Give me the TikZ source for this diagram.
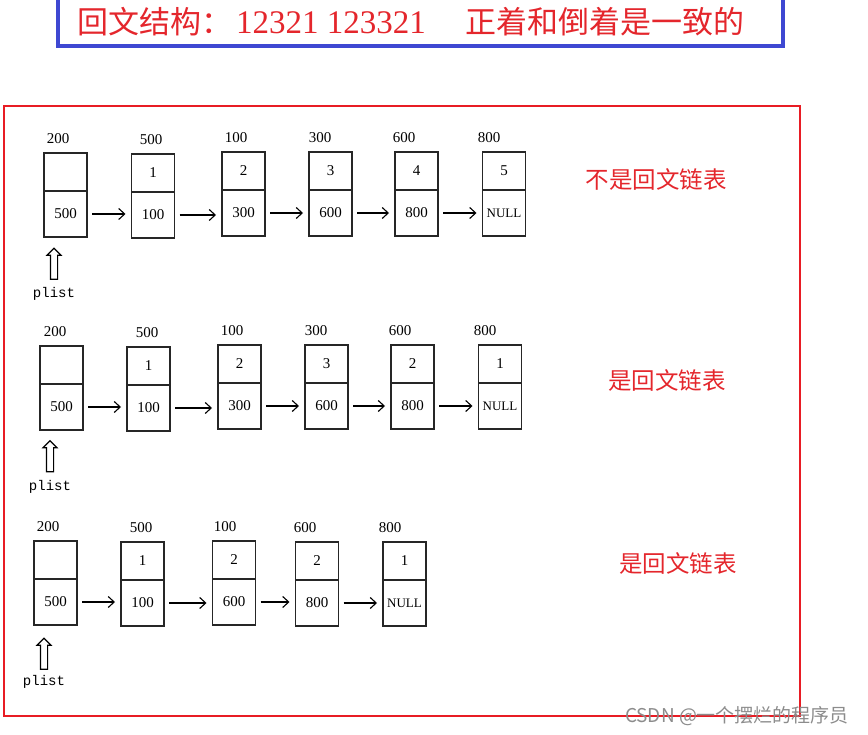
\documentclass[tikz,border=0pt]{standalone}
\usepackage{fontspec}
\setmainfont{Liberation Serif}
\newfontfamily\cjk{Noto Sans CJK SC}
\newfontfamily\monof{Liberation Mono}
\usetikzlibrary{arrows.meta,shapes.arrows}
\definecolor{tred}{RGB}{228,38,44}
\definecolor{bred}{RGB}{232,28,36}
\definecolor{tblue}{RGB}{62,72,210}
\tikzset{
  topcell/.style={draw=black!85,line width=1.2pt,minimum width=43pt,minimum height=38pt,anchor=north,inner sep=0pt,outer sep=0pt,font=\fontsize{15}{15}\selectfont},
  botcell/.style={draw=black!85,line width=1.2pt,minimum width=43pt,minimum height=46pt,anchor=north,inner sep=0pt,outer sep=0pt,font=\fontsize{15}{15}\selectfont},
  addr/.style={inner sep=0pt,font=\fontsize{15}{15}\selectfont},
  arr/.style={draw=black,line width=1.1pt,-{Straight Barb[length=6pt,width=11pt]}},
  plistarrow/.style={single arrow,draw=black,line width=1.1pt,rotate=90,minimum height=31pt,single arrow head extend=3.5pt,inner sep=0pt,outer sep=0pt},
  plisttext/.style={inner sep=0pt,font=\monof\fontsize{14}{14}\selectfont},
  rowlabel/.style={text=tred,inner sep=0pt,font=\cjk\fontsize{23.5}{23.5}\selectfont},
}
\newcommand\nulltext{{\fontsize{13}{13}\selectfont NULL}}
\newcommand\lnode[7]{%
  \node[topcell] (#1t) at (#2,#3) {\raisebox{-5pt}{#6}};
  \node[botcell] (#1b) at (#1t.south) {#7};
  \node[addr] (#1a) at (#4,#3-14) {#5};
}
\begin{document}
\begin{tikzpicture}[x=1pt,y=-1pt]
\useasboundingbox (0,0) rectangle (868,735);
% title
\draw[tblue,line width=3.2pt] (58,-6) -- (58,46) -- (783,46) -- (783,-6);
\node[text=tred,inner sep=0pt,anchor=west,font=\cjk\fontsize{31}{31}\selectfont] (t1) at (77,22) {回文结构：};
\node[text=tred,inner sep=0pt,anchor=west,font=\fontsize{33}{33}\selectfont] (t2) at (236,23) {12321\ 123321};
\node[text=tred,inner sep=0pt,anchor=west,font=\cjk\fontsize{31}{31}\selectfont] (t3) at (465,22) {正着和倒着是一致的};
% outer frame
\draw[bred,line width=2pt] (4,106) rectangle (800,716);
% row 1
\lnode{a1}{65.5}{153}{58}{200}{}{500}
\lnode{a2}{153}{154}{151}{500}{1}{100}
\lnode{a3}{243.5}{152}{236}{100}{2}{300}
\lnode{a4}{330.5}{152}{320}{300}{3}{600}
\lnode{a5}{416.5}{152}{404}{600}{4}{800}
\lnode{a6}{504}{152}{489}{800}{5}{\nulltext}
\foreach \p/\q in {a1/a2,a2/a3,a3/a4,a4/a5,a5/a6}{
  \draw[arr] ([xshift=5pt]\p b.east) -- ([xshift=-6pt]\p b.east -| \q b.west);
}
\node[plistarrow] (pa1) at (54,265.5) {\rule{0pt}{6pt}};
\node[plisttext] (pl1) at (54,294) {plist};
\node[rowlabel] (r1) at (656,180) {不是回文链表};
% row 2
\lnode{b1}{61.5}{346}{55}{200}{}{500}
\lnode{b2}{148.5}{347}{147}{500}{1}{100}
\lnode{b3}{239.5}{345}{232}{100}{2}{300}
\lnode{b4}{326.5}{345}{316}{300}{3}{600}
\lnode{b5}{412.5}{345}{400}{600}{2}{800}
\lnode{b6}{500}{345}{485}{800}{1}{\nulltext}
\foreach \p/\q in {b1/b2,b2/b3,b3/b4,b4/b5,b5/b6}{
  \draw[arr] ([xshift=5pt]\p b.east) -- ([xshift=-6pt]\p b.east -| \q b.west);
}
\node[plistarrow] (pa2) at (50,458) {\rule{0pt}{6pt}};
\node[plisttext] (pl2) at (50,487) {plist};
\node[rowlabel] (r2) at (667,380) {是回文链表};
% row 3
\lnode{c1}{55.5}{541}{48}{200}{}{500}
\lnode{c2}{142.5}{542}{141}{500}{1}{100}
\lnode{c3}{234}{541}{225}{100}{2}{600}
\lnode{c4}{317}{542}{305}{600}{2}{800}
\lnode{c5}{404.5}{542}{390}{800}{1}{\nulltext}
\foreach \p/\q in {c1/c2,c2/c3,c3/c4,c4/c5}{
  \draw[arr] ([xshift=5pt]\p b.east) -- ([xshift=-6pt]\p b.east -| \q b.west);
}
\node[plistarrow] (pa3) at (44,655.5) {\rule{0pt}{6pt}};
\node[plisttext] (pl3) at (44,682) {plist};
\node[rowlabel] (r3) at (678,563) {是回文链表};
% watermark
\node[text=black!45,inner sep=0pt,font=\cjk\fontsize{19}{19}\selectfont] (wm) at (737,716) {CSDN @一个摆烂的程序员};
\end{tikzpicture}
\end{document}
